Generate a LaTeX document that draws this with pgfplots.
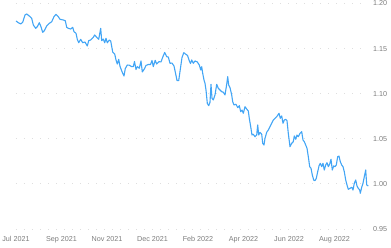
\documentclass[border=0pt]{standalone}
\usepackage{fontspec}
\setmainfont{Liberation Sans}
\usepackage{pgfplots}
\pgfplotsset{compat=1.18}
\definecolor{lineblue}{RGB}{66,165,245}
\definecolor{gridgray}{RGB}{222,222,222}
\definecolor{labgray}{RGB}{125,125,125}
\begin{document}
\begin{tikzpicture}
\path[use as bounding box] (0,0) rectangle (391pt,248pt);
\begin{axis}[
  at={(16pt,19pt)}, anchor=south west,
  scale only axis, width=352pt, height=225.5pt,
  xmin=16, xmax=368, ymin=0.95, ymax=1.20,
  axis line style={draw=none},
  major tick length=0pt,
  xtick={16,61.5,107,152.5,198,243.5,289,334.5},
  xticklabels={Jul 2021,Sep 2021,Nov 2021,Dec 2021,Feb 2022,Apr 2022,Jun 2022,Aug 2022},
  ytick={0.95,1.00,1.05,1.10,1.15,1.20},
  yticklabel pos=right,
  ymajorgrids,
  grid style={gridgray, dash pattern=on 1pt off 7pt, line width=0.9pt},
  tick label style={font=\fontsize{7.2}{8}\selectfont, text=labgray, inner sep=0pt},
  xticklabel style={anchor=north, yshift=-7.3pt},
  yticklabel style={anchor=west, xshift=5pt},
  /pgf/number format/.cd, fixed, fixed zerofill, precision=2, assume math mode=true,
  /pgfplots/.cd,
  clip=false,
]
\addplot[lineblue, line width=1.1pt, line join=round] table[x=x, y=y] {
x y
16 1.1806
18.3 1.1787
20.7 1.1773
22.7 1.1792
25 1.1873
26.7 1.1884
29.3 1.1861
31.7 1.1836
33.3 1.1762
35.7 1.1725
37.3 1.1743
39.3 1.1787
40.7 1.1751
42.7 1.1681
44.3 1.1698
46.7 1.1751
49.3 1.1780
51.7 1.1798
54 1.1854
56 1.1880
58.3 1.1854
60 1.1825
63.3 1.1817
65.3 1.1809
66.7 1.1736
68.3 1.1725
70.7 1.1717
72.7 1.1736
74 1.1687
76 1.1670
77.3 1.1603
78.7 1.1565
80.7 1.1603
82.7 1.1565
85 1.1573
87.3 1.1529
88.7 1.1588
90.7 1.1595
93.3 1.1625
94.7 1.1651
96.7 1.1625
98.7 1.1603
100.7 1.1725
101.7 1.1588
103.3 1.1606
104.7 1.1565
106 1.1614
107.3 1.1565
109.3 1.1595
110.7 1.1584
112.7 1.1462
114.7 1.1440
116 1.1374
117.3 1.1329
118.7 1.1381
120 1.1304
122 1.1244
124 1.1196
125.3 1.1279
127.3 1.1318
129.3 1.1316
131.3 1.1302
133.3 1.1300
134.5 1.1357
136 1.1268
137.3 1.1300
139.3 1.1282
141 1.1363
142.3 1.1241
144.3 1.1274
146 1.1313
148.3 1.1324
150.5 1.1324
152 1.1368
153.3 1.1300
155.2 1.1370
156.7 1.1329
159 1.1355
161 1.1352
162.7 1.1404
164.7 1.1457
166.7 1.1410
168.3 1.1407
170 1.1337
172 1.1340
174 1.1307
175.7 1.1218
177 1.1146
178.7 1.1146
180.2 1.1263
182 1.1401
183.8 1.1455
185.5 1.1440
187.5 1.1424
189.5 1.1357
190.5 1.1335
191.7 1.1374
193.3 1.1337
195 1.1363
197.3 1.1352
199.3 1.1318
200.7 1.1263
201.7 1.1299
202.7 1.1226
204 1.1152
205 1.1115
206 1.1041
207.3 1.0894
208.7 1.0867
210 1.0905
211 1.1104
212 1.0949
213.3 1.0930
215 1.0986
216.7 1.1104
218.3 1.1060
220 1.1041
221.7 1.1022
223.3 1.1016
225 1.0986
226.7 1.1104
227.7 1.1189
228.7 1.1096
230 1.1067
231.7 1.0986
232.7 1.0911
234 1.0875
236 1.0883
237.7 1.0845
239.3 1.0867
240.7 1.0800
242 1.0819
243.3 1.0783
245 1.0856
246.7 1.0830
248.3 1.0808
249.3 1.0727
250.7 1.0634
252 1.0542
253.3 1.0550
255 1.0523
256.7 1.0542
257.7 1.0653
258.7 1.0542
260 1.0572
261.7 1.0550
262.7 1.0450
264 1.0431
265 1.0506
266.7 1.0572
268.3 1.0598
270 1.0634
271.7 1.0672
273.3 1.0708
275 1.0727
276.7 1.0745
279 1.0783
280.3 1.0727
281.7 1.0753
283 1.0672
284.3 1.0708
285.7 1.0716
287 1.0701
288.3 1.0561
290 1.0412
291.7 1.0450
293.3 1.0468
294.3 1.0531
295.7 1.0495
297 1.0542
298.3 1.0523
300 1.0561
301.7 1.0579
303 1.0487
304.3 1.0468
305.7 1.0431
307 1.0395
308.3 1.0302
309.7 1.0191
311 1.0173
312.3 1.0099
313.7 1.0043
315 1.0036
316.3 1.0062
317.7 1.0135
319 1.0199
320.3 1.0228
321.7 1.0191
323 1.0228
324.3 1.0154
325.7 1.0210
327 1.0235
328.3 1.0191
329.7 1.0221
331 1.0273
332.3 1.0154
333.7 1.0199
335 1.0191
336.3 1.0210
337.7 1.0302
339 1.0309
340.3 1.0246
341.7 1.0210
343 1.0191
344.3 1.0135
345.7 1.0043
347 0.9988
348.3 0.9940
350 0.9951
351.7 0.9962
353 0.9932
354.3 1.0007
355.7 1.0043
357 0.9977
358.3 0.9951
359.7 0.9932
360.3 0.9896
361.7 0.9962
363 1.0007
364.3 1.0080
365.7 1.0154
366.7 0.9988
368.3 0.9977
};
\end{axis}
\end{tikzpicture}
\end{document}
